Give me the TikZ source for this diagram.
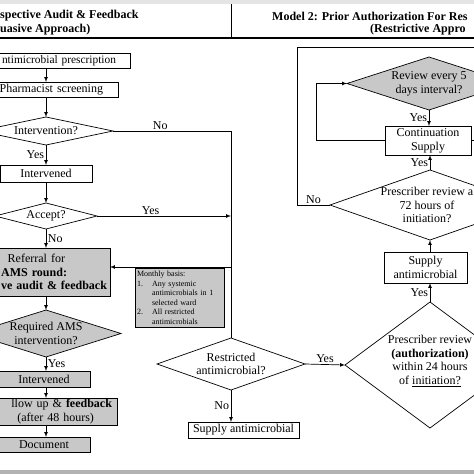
\documentclass[tikz,border=0pt]{standalone}
\usepackage{fontspec}
\setmainfont{Liberation Serif}
\usetikzlibrary{shapes,arrows,positioning}
\definecolor{boxgray}{RGB}{200,200,200}

\begin{document}
\begin{tikzpicture}[
    x=1pt, y=-1pt,
    >=latex,
    every node/.style={
        font=\fontsize{12}{13.8}\selectfont,
        align=center
    },
    box/.style={
        rectangle, draw, line width=0.7pt,
        inner sep=0pt, outer sep=0pt
    },
    gbox/.style={box, fill=boxgray},
    dec/.style={
        diamond, draw, line width=0.7pt,
        inner sep=0pt, outer sep=0pt
    },
    gdec/.style={dec, fill=boxgray},
    lbl/.style={inner sep=1.5pt},
    flow/.style={->, line width=0.7pt}
]
\useasboundingbox (0,0) rectangle (474,474);
\clip (0,0) rectangle (474,474);

% header
\fill[gray!20] (0,0) rectangle (474,4);
\fill[gray!60] (0,470) rectangle (474,474);
\draw[line width=1.3pt] (0,38) -- (474,38);
\draw[line width=0.8pt] (231,4) -- (231,38);
\node[anchor=west, inner sep=0pt, font=\bfseries\fontsize{12}{13.8}\selectfont] (h1a) at (0,16) {spective Audit \& Feedback};
\node[anchor=west, inner sep=0pt, font=\bfseries\fontsize{12}{13.8}\selectfont] (h1b) at (0,30) {uasive Approach)};
\node[anchor=west, inner sep=0pt, font=\bfseries\fontsize{12}{13.8}\selectfont] (h2a) at (272,16) {Model 2: Prior Authorization For Res};
\node[anchor=west, inner sep=0pt, font=\bfseries\fontsize{12}{13.8}\selectfont] (h2b) at (370,30) {(Restrictive Appro};

% model 1
\coordinate (col) at (46,0);
\node[box, anchor=east, text width=140pt, align=right, inner xsep=14pt, minimum height=15pt,
    font=\fontsize{11.4}{13}\selectfont] (presc) at (130,60.5) {ntimicrobial prescription};
\node[box, anchor=east, text width=120pt, align=right, inner xsep=15pt, minimum height=15pt] (screen) at (118,89.5) {Pharmacist screening};
\node[dec, minimum width=134pt, minimum height=28pt, label=center:Intervention?] (interv) at (46,131) {};
\node[box, minimum width=92pt, minimum height=17pt] (done1) at (46,173.5) {Intervened};
\node[dec, minimum width=102pt, minimum height=26pt, label=center:Accept?] (accept) at (46,216) {};
\node[gbox, anchor=east, text width=130pt, align=right, inner xsep=3pt, minimum height=48pt] (refer) at (110,272)
    {Referral for\rule{42pt}{0pt}\\\textbf{AMS round:}\rule{40pt}{0pt}\\\textbf{ve audit \& feedback}};
\node[gdec, minimum width=150pt, minimum height=47pt, label={center:{Required AMS\\intervention?}}] (reqams) at (46,333.5) {};
\node[gbox, minimum width=92pt, minimum height=16pt] (done2) at (44,379) {Intervened};
\node[gbox, anchor=east, text width=130pt, align=right, inner xsep=5pt, minimum height=27pt] (follow) at (117,411.5)
    {llow up \& \textbf{feedback}\\(after 48 hours)\rule{18pt}{0pt}};
\node[gbox, minimum width=92pt, minimum height=15pt] (doc) at (44,444.5) {Document};
\node[gbox, anchor=north west, text width=85pt, align=left, inner xsep=2pt, inner ysep=3pt,
    font=\fontsize{8}{9.5}\selectfont] (note) at (135,268)
    {Monthly basis:\\\makebox[15pt][l]{1.}Any systemic\\\hspace*{15pt}antimicrobials in 1\\\hspace*{15pt}selected ward\\\makebox[15pt][l]{2.}All restricted\\\hspace*{15pt}antimicrobials};

% model 2
\node[dec, minimum width=148pt, minimum height=52pt, label={center:{Restricted\\antimicrobial?}}] (restr) at (231,364) {};
\node[box, minimum width=111pt, minimum height=16pt] (supply2) at (243.5,430) {Supply antimicrobial};
\node[dec, minimum width=170pt, minimum height=126pt,
    label={[yshift=4pt]center:{Prescriber review\\\textbf{(authorization)}\\within 24 hours\\of \underline{initiation?}}}] (d24) at (430,365) {};
\node[box, minimum width=83pt, minimum height=31pt] (supply1) at (425.5,267.5) {Supply\\antimicrobial};
\node[dec, minimum width=200pt, minimum height=70pt,
    label={[xshift=-3pt]center:{Prescriber review a\\72 hours of\\initiation?}}] (d72) at (430,205) {};
\node[box, minimum width=86pt, minimum height=29pt] (cont) at (428,140.5) {Continuation\\Supply};
\node[gdec, minimum width=164pt, minimum height=53pt,
    label={center:{Review every 5\\days interval?}}] (rev5) at (429,83.5) {};
\coordinate (loopL) at (316,0);
\coordinate (outL) at (297,47);
\coordinate (outR) at (480,47);
\coordinate (contR) at (480,140.5);

% connectors, model 1
\draw[flow] (presc.south -| col) -- (screen.north -| col);
\draw[flow] (screen.south -| col) -- (interv.north);
\draw[flow] (interv.south) -- node[lbl, left]{Yes} (done1.north);
\draw[flow] (done1.south) -- (accept.north);
\draw[flow] (accept.south) -- node[lbl, right]{No} (refer.north -| col);
\draw[flow] (refer.south -| col) -- (reqams.north);
\draw[flow] (reqams.south) -- node[lbl, right]{Yes} (done2.north -| reqams.south);
\draw[flow] (done2.south -| reqams.south) -- (follow.north -| reqams.south);
\draw[flow] (follow.south -| reqams.south) -- (doc.north -| reqams.south);
\draw[line width=0.7pt] (interv.east) -- node[lbl, above, pos=0.4]{No} (interv.east -| restr.north) -- (restr.north);
\draw[flow] (accept.east) -- node[lbl, above, pos=0.4]{Yes} (accept.east -| restr.north);
\draw[flow] ([yshift=5pt]refer.east -| restr.north) -- ([yshift=5pt]refer.east);

% connectors, model 2
\draw[flow] (restr.east) -- node[lbl, above]{Yes} (d24.west);
\draw[flow] (restr.south) -- node[lbl, left]{No} (supply2.north -| restr.south);
\draw[flow] (d24.north) -- node[lbl, left]{Yes} (supply1.south -| d24.north);
\draw[flow] (supply1.north -| d72.south) -- (d72.south);
\draw[flow] (d72.north) -- node[lbl, left]{Yes} (cont.south -| d72.north);
\draw[flow] (rev5.south) -- node[lbl, left]{Yes} (cont.north -| rev5.south);
\draw[flow] (cont.west) -- (cont.west -| loopL) |- (rev5.west);
\draw[line width=0.7pt] (d72.west) -- node[lbl, above]{No} (d72.west -| outL) -- (outL) -- (outR);
\draw[line width=0.7pt] (cont.east) -- (contR);
\end{tikzpicture}
\end{document}
